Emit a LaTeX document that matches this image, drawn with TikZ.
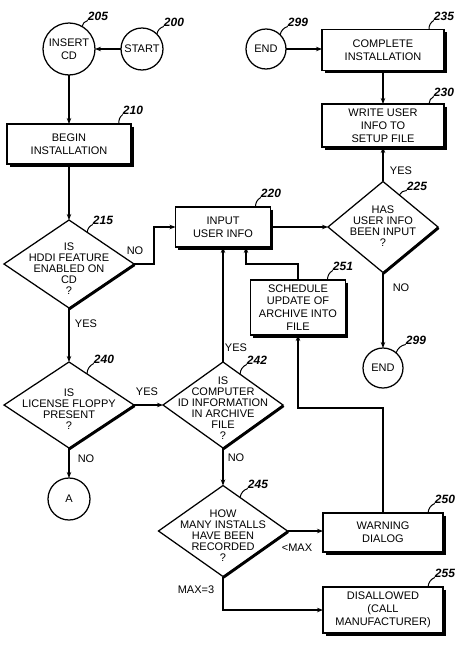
\documentclass[tikz,border=0pt]{standalone}
\usepackage{fontspec}
\setmainfont{Liberation Sans}
\usetikzlibrary{shapes.geometric,arrows.meta,calc}
\newcommand\bshadow[1]{\draw[shadowline] ($(#1.north east)+(1.3,-2.5)$) -- ($(#1.south east)+(1.3,-1.3)$) -- ($(#1.south west)+(2.5,-1.3)$);}
\newcommand\dshadow[1]{\draw[shadowline] ($(#1.east)+(0.6,-0.8)$) -- ($(#1.south)+(0.6,-0.8)$);}
\newcommand\leader[2]{\draw[leadline] (#1) to[bend left=30] (#2);}
\begin{document}
\begin{tikzpicture}[x=1pt,y=1pt,
  boxn/.style={draw, line width=1.25pt, inner sep=0pt, outer sep=0pt, align=center, font=\fontsize{11}{12.8}\selectfont},
  circ/.style={draw, circle, line width=1.25pt, inner sep=0pt, outer sep=0pt, align=center, font=\fontsize{11}{12.8}\selectfont},
  dia/.style={draw, diamond, line width=1.25pt, inner sep=0pt, outer sep=0pt},
  dtxt/.style={inner sep=0pt, align=center, font=\fontsize{11}{11}\selectfont},
  lab/.style={inner sep=0pt, font=\fontsize{11}{12}\selectfont},
  num/.style={inner sep=0pt, font=\bfseries\itshape\fontsize{12}{12}\selectfont},
  arr/.style={line width=1.25pt, -{Stealth[length=6pt,width=4.5pt]}},
  shadowline/.style={line width=2.6pt},
  leadline/.style={line width=1pt}]
\useasboundingbox (0,0) rectangle (474,-651);

% circles
\node[circ, minimum size=52pt] (c205) at (69,-49) {INSERT\\CD};
\node[circ, minimum size=42pt] (c200) at (142,-49) {START};
\node[circ, minimum size=40pt] (c299a) at (266,-49) {END};
\node[circ, minimum size=40pt] (c299b) at (383,-368) {END};
\node[circ, minimum size=42pt] (cA) at (69,-499) {A};

% boxes
\node[boxn, minimum width=124pt, minimum height=40pt] (b210) at (69,-144) {BEGIN\\INSTALLATION};
\node[boxn, minimum width=95pt, minimum height=40pt] (b220) at (223,-227) {INPUT\\USER INFO};
\node[boxn, minimum width=122pt, minimum height=41pt] (b235) at (383,-50) {COMPLETE\\INSTALLATION};
\node[boxn, minimum width=122pt, minimum height=43pt] (b230) at (383,-125.5) {WRITE USER\\INFO TO\\SETUP FILE};
\node[boxn, minimum width=95pt, minimum height=55pt] (b251) at (298,-307.5) {SCHEDULE\\UPDATE OF\\ARCHIVE INTO\\FILE};
\node[boxn, minimum width=120pt, minimum height=39pt] (b250) at (383,-532.5) {WARNING\\DIALOG};
\node[boxn, minimum width=120pt, minimum height=46pt] (b255) at (383,-610) {DISALLOWED\\(CALL\\MANUFACTURER)};
\bshadow{b210}\bshadow{b220}\bshadow{b235}\bshadow{b230}\bshadow{b251}\bshadow{b250}\bshadow{b255}

% diamonds
\node[dia, minimum width=130pt, minimum height=88pt] (d215) at (69,-264) {};
\node[dia, minimum width=110pt, minimum height=91pt] (d225) at (383,-227) {};
\node[dia, minimum width=130pt, minimum height=86pt] (d240) at (69,-405) {};
\node[dia, minimum width=120pt, minimum height=86pt] (d242) at (223,-405) {};
\node[dia, minimum width=129pt, minimum height=91pt] (d245) at (223,-531) {};
\dshadow{d215}\dshadow{d225}\dshadow{d240}\dshadow{d242}\dshadow{d245}
\node[dtxt] (t215) at (69,-269) {IS\\HDDI FEATURE\\ENABLED ON\\CD\\?};
\node[dtxt] (t225) at (383,-226.5) {HAS\\USER INFO\\BEEN INPUT\\?};
\node[dtxt] (t240) at (69,-409) {IS\\LICENSE FLOPPY\\PRESENT\\?};
\node[dtxt] (t242) at (223,-408) {IS\\COMPUTER\\ID INFORMATION\\IN ARCHIVE\\FILE\\?};
\node[dtxt] (t245) at (223,-536) {HOW\\MANY INSTALLS\\HAVE BEEN\\RECORDED\\?};

% connectors
\draw[arr] (c200) -- (c205);
\draw[arr] (c205) -- (b210);
\draw[arr] (b210) -- (d215);
\draw[arr] (d215.east) -- ++(20,0) |- (b220.west);
\draw[arr] (d215) -- (d240);
\draw[arr] (d240) -- (d242);
\draw[arr] (d240) -- (cA);
\draw[arr] (d242) -- (b220);
\draw[arr] (d242) -- (d245);
\draw[arr] (d245.east) -- (d245.east -| b250.west);
\draw[arr] (d245.south) |- (b255.west);
\coordinate (j1) at (383,-408);
\draw[arr] (b250.north) -- (j1) -| (b251.south);
\draw[arr] (b251.north) -- ++(0,16) -| ([xshift=23pt]b220.south);
\draw[arr] (b220) -- (d225);
\draw[arr] (d225) -- (b230);
\draw[arr] (d225) -- (c299b);
\draw[arr] (b235) -- (b230);
\draw[arr] (c299a.east) -- (c299a.east -| b235.west);

% connector labels
\node[lab] (n1) at (135,-251) {NO};
\node[lab] (n2) at (86,-324) {YES};
\node[lab] (n3) at (401,-171) {YES};
\node[lab] (n4) at (401,-288) {NO};
\node[lab] (n5) at (236,-348) {YES};
\node[lab] (n6) at (147,-392) {YES};
\node[lab] (n7) at (86,-459) {NO};
\node[lab] (n8) at (236,-458) {NO};
\node[lab] (n9) at (297,-548) {<MAX};
\node[lab] (n10) at (196,-590) {MAX=3};

% reference numbers
\node[num] (l205) at (98,-16) {205};
\node[num] (l200) at (174,-22) {200};
\node[num] (l210) at (133,-110) {210};
\node[num] (l215) at (103,-220) {215};
\node[num] (l220) at (271,-193) {220};
\node[num] (l225) at (417,-186) {225};
\node[num] (l235) at (444,-16) {235};
\node[num] (l230) at (444,-92) {230};
\node[num] (l299a) at (298,-22) {299};
\node[num] (l251) at (343,-266) {251};
\node[num] (l299b) at (416,-340) {299};
\node[num] (l240) at (104,-359) {240};
\node[num] (l242) at (257,-360) {242};
\node[num] (l245) at (258,-484) {245};
\node[num] (l250) at (445,-499) {250};
\node[num] (l255) at (445,-573) {255};

\leader{c205.60}{l205.south west}
\leader{c200.45}{l200.south west}
\leader{[xshift=-12pt]b210.north east}{l210.south west}
\leader{d215.60}{l215.south west}
\leader{[xshift=-15pt]b220.north east}{l220.south west}
\leader{d225.63}{l225.south west}
\leader{[xshift=-15pt]b235.north east}{l235.south west}
\leader{[xshift=-15pt]b230.north east}{l230.south west}
\leader{c299a.45}{l299a.south west}
\leader{[xshift=-18pt]b251.north east}{l251.south west}
\leader{c299b.49}{l299b.south west}
\leader{d240.60}{l240.south west}
\leader{d242.61}{l242.south west}
\leader{d245.63}{l245.south west}
\leader{[xshift=-15pt]b250.north east}{l250.south west}
\leader{[xshift=-15pt]b255.north east}{l255.south west}
\end{tikzpicture}
\end{document}
